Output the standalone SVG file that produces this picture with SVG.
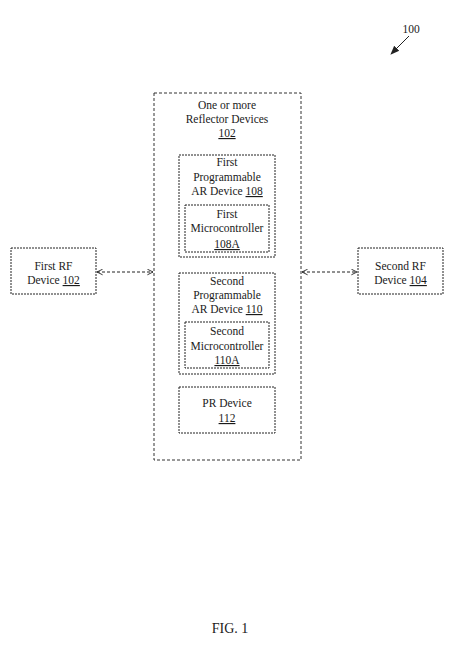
<svg xmlns="http://www.w3.org/2000/svg" width="474" height="660" viewBox="0 0 474 660">
<defs>
<style>
text{font-family:"Liberation Serif","Times New Roman",serif;font-size:11.5px;fill:#1a1a1a;text-anchor:middle}
.box{fill:none;stroke:#222;stroke-width:1;stroke-dasharray:2 1}
.outer{fill:none;stroke:#333;stroke-width:1;stroke-dasharray:3 2}
.conn{fill:none;stroke:#222;stroke-width:1;stroke-dasharray:3 2}
.u{text-decoration:underline}
</style>
<marker id="ah" viewBox="0 0 10 10" refX="9" refY="5" markerWidth="7" markerHeight="7" orient="auto-start-reverse" markerUnits="userSpaceOnUse">
<path d="M1,1 L9,5 L1,9" fill="none" stroke="#222" stroke-width="1.3"/>
</marker>
<marker id="ah2" viewBox="0 0 10 10" refX="9" refY="5" markerWidth="9" markerHeight="9" orient="auto" markerUnits="userSpaceOnUse">
<path d="M0,1 L10,5 L0,9 Z" fill="#222"/>
</marker>
</defs>
<g id="connectors">
<line class="conn" x1="97" y1="272" x2="153" y2="272" marker-start="url(#ah)" marker-end="url(#ah)"/>
<line class="conn" x1="302" y1="272" x2="357" y2="272" marker-start="url(#ah)" marker-end="url(#ah)"/>
<line x1="409" y1="36" x2="391" y2="54" stroke="#222" stroke-width="1" marker-end="url(#ah2)"/>
</g>
<g id="ref100"><text x="411" y="33">100</text></g>
<g id="reflector-devices">
<rect class="outer" x="154" y="93" width="147" height="367"/>
<text x="227" y="109">One or more</text>
<text x="227" y="123">Reflector Devices</text>
<text x="227" y="137" class="u">102</text>
</g>
<g id="ar-device-108">
<rect class="box" x="179" y="155" width="96" height="102"/>
<text x="227" y="166">First</text>
<text x="227" y="181">Programmable</text>
<text x="227" y="195">AR Device <tspan class="u">108</tspan></text>
</g>
<g id="mc-108A">
<rect class="box" x="185" y="205" width="84" height="47"/>
<text x="227" y="218">First</text>
<text x="227" y="232">Microcontroller</text>
<text x="227" y="248" class="u">108A</text>
</g>
<g id="ar-device-110">
<rect class="box" x="179" y="273" width="96" height="101"/>
<text x="227" y="285">Second</text>
<text x="227" y="299">Programmable</text>
<text x="227" y="313">AR Device <tspan class="u">110</tspan></text>
</g>
<g id="mc-110A">
<rect class="box" x="185" y="322" width="84" height="46"/>
<text x="227" y="335">Second</text>
<text x="227" y="350">Microcontroller</text>
<text x="227" y="364" class="u">110A</text>
</g>
<g id="pr-device-112">
<rect class="box" x="179" y="387" width="96" height="46"/>
<text x="227" y="407">PR Device</text>
<text x="227" y="422" class="u">112</text>
</g>
<g id="first-rf">
<rect class="box" x="11" y="248" width="85" height="46"/>
<text x="53.5" y="270">First RF</text>
<text x="53.5" y="284">Device <tspan class="u">102</tspan></text>
</g>
<g id="second-rf">
<rect class="box" x="358" y="248" width="85" height="46"/>
<text x="400.5" y="270">Second RF</text>
<text x="400.5" y="284">Device <tspan class="u">104</tspan></text>
</g>
<g id="caption"><text x="230" y="633" style="font-size:14px">FIG. 1</text></g>
</svg>
